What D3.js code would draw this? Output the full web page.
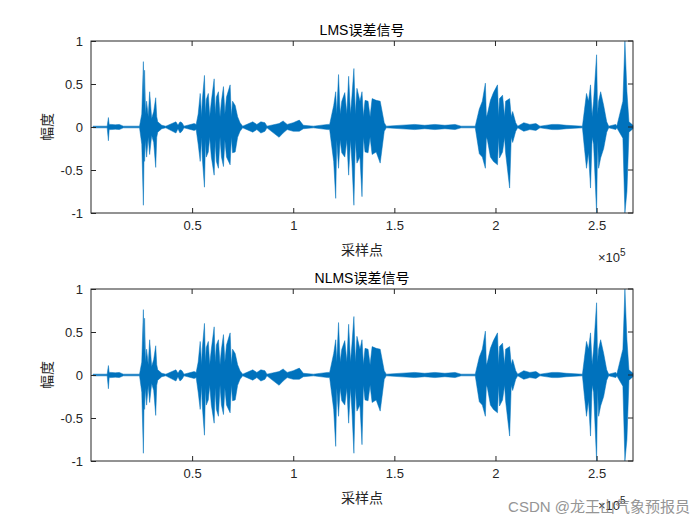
<!DOCTYPE html>
<html>
<head>
<meta charset="utf-8">
<script src="https://d3js.org/d3.v7.min.js"></script>
<style>
body { margin: 0; background: #fff; }
text { font-family: Arial, "Liberation Sans", "Noto Sans CJK SC", sans-serif; }
</style>
</head>
<body>
<svg id="chart" width="700" height="525"></svg>
<script>
// envelope of the error signal (x in units of 1e5 samples)
var envX  = [0.01,0.08,0.086,0.09,0.10,0.12,0.14,0.16,0.24,0.251,0.259,0.263,0.265,0.27,0.275,0.283,0.29,0.30,0.31,0.32,0.325,0.33,0.35,0.37,0.42,0.43,0.44,0.45,0.46,0.51,0.52,0.53,0.54,0.547,0.55,0.561,0.566,0.57,0.58,0.587,0.595,0.609,0.614,0.62,0.63,0.638,0.645,0.655,0.662,0.67,0.688,0.694,0.70,0.713,0.725,0.737,0.75,0.80,0.82,0.84,0.86,0.87,0.93,0.95,0.97,1.00,1.03,1.05,1.10,1.17,1.18,1.20,1.21,1.215,1.224,1.232,1.24,1.255,1.265,1.274,1.283,1.29,1.30,1.307,1.315,1.33,1.34,1.347,1.355,1.37,1.38,1.39,1.41,1.43,1.45,1.46,1.60,1.65,1.70,1.75,1.80,1.83,1.90,1.92,1.935,1.95,1.955,1.96,1.975,1.99,2.01,2.015,2.02,2.035,2.045,2.05,2.07,2.078,2.085,2.10,2.11,2.14,2.17,2.20,2.22,2.28,2.31,2.35,2.43,2.44,2.45,2.46,2.47,2.478,2.485,2.50,2.505,2.51,2.52,2.535,2.55,2.56,2.595,2.60,2.63,2.64,2.65,2.66,2.68];
var envHi = [0.01,0.01,0.11,0.03,0.03,0.025,0.03,0.01,0.01,0.15,0.76,0.25,0.66,0.15,0.30,0.12,0.41,0.10,0.18,0.34,0.12,0.06,0.02,0.01,0.06,0.02,0.06,0.05,0.01,0.04,0.03,0.15,0.39,0.12,0.30,0.60,0.15,0.32,0.39,0.12,0.30,0.56,0.15,0.35,0.41,0.12,0.30,0.47,0.15,0.35,0.49,0.12,0.30,0.25,0.12,0.05,0.01,0.06,0.03,0.06,0.05,0.01,0.04,0.07,0.03,0.05,0.08,0.02,0.01,0.03,0.03,0.25,0.41,0.15,0.61,0.15,0.30,0.40,0.15,0.59,0.15,0.35,0.68,0.15,0.45,0.30,0.41,0.12,0.31,0.30,0.12,0.33,0.31,0.30,0.05,0.01,0.03,0.02,0.03,0.02,0.03,0.01,0.01,0.21,0.30,0.51,0.12,0.15,0.31,0.40,0.49,0.12,0.33,0.37,0.12,0.30,0.33,0.12,0.18,0.05,0.01,0.05,0.03,0.04,0.01,0.03,0.03,0.02,0.01,0.20,0.39,0.30,0.49,0.12,0.30,0.84,0.15,0.30,0.41,0.25,0.06,0.01,0.03,0.01,0.30,1.00,0.41,0.06,0.02];
var envLo = [-0.01,-0.01,-0.16,-0.03,-0.03,-0.025,-0.03,-0.01,-0.01,-0.20,-0.91,-0.20,-0.40,-0.15,-0.35,-0.12,-0.32,-0.10,-0.18,-0.47,-0.12,-0.06,-0.02,-0.01,-0.07,-0.02,-0.07,-0.05,-0.01,-0.04,-0.03,-0.20,-0.40,-0.12,-0.35,-0.70,-0.15,-0.35,-0.29,-0.12,-0.35,-0.56,-0.15,-0.40,-0.48,-0.12,-0.35,-0.46,-0.15,-0.35,-0.44,-0.12,-0.30,-0.29,-0.12,-0.05,-0.01,-0.06,-0.03,-0.07,-0.05,-0.01,-0.12,-0.07,-0.03,-0.05,-0.05,-0.02,-0.01,-0.03,-0.03,-0.40,-0.83,-0.15,-0.48,-0.15,-0.30,-0.35,-0.15,-0.56,-0.15,-0.40,-0.91,-0.15,-0.42,-0.35,-0.81,-0.12,-0.29,-0.30,-0.12,-0.32,-0.29,-0.42,-0.05,-0.01,-0.03,-0.02,-0.03,-0.02,-0.03,-0.01,-0.01,-0.31,-0.35,-0.48,-0.12,-0.15,-0.35,-0.40,-0.44,-0.12,-0.36,-0.29,-0.12,-0.30,-0.71,-0.12,-0.18,-0.05,-0.01,-0.05,-0.03,-0.04,-0.01,-0.03,-0.03,-0.02,-0.01,-0.25,-0.48,-0.30,-0.71,-0.12,-0.20,-1.00,-0.15,-0.48,-0.36,-0.25,-0.06,-0.01,-0.03,-0.01,-0.13,-1.00,-0.75,-0.06,-0.02];
var xTicks = [0.5, 1, 1.5, 2, 2.5];
var yTicks = [-1, -0.5, 0, 0.5, 1];
var titles = ["LMS误差信号", "NLMS误差信号"];

var svg = d3.select("#chart");
var left = 91, right = 633, h = 172;
var tops = [41, 289];
var x = d3.scaleLinear().domain([0, 2.68]).range([left, right]);
var pts = envX.map(function(d, i) { return {x: d, hi: envHi[i], lo: envLo[i]}; });
var fmt = function(d) { return String(d); };

tops.forEach(function(top, k) {
  var y = d3.scaleLinear().domain([-1, 1]).range([top + h, top]);
  var g = svg.append("g");

  var area = d3.area().x(function(d) { return x(d.x); }).y0(function(d) { return y(d.lo); }).y1(function(d) { return y(d.hi); });
  g.append("path").datum(pts).attr("d", area).attr("fill", "#0072BD").attr("stroke", "#0072BD").attr("stroke-width", 0.5);

  var ax = g.append("g").attr("transform", "translate(0," + (top + h) + ")")
    .call(d3.axisBottom(x).tickValues(xTicks).tickFormat(fmt).tickSizeInner(-5).tickSizeOuter(0).tickPadding(8));
  var ay = g.append("g").attr("transform", "translate(" + left + ",0)")
    .call(d3.axisLeft(y).tickValues(yTicks).tickFormat(fmt).tickSizeInner(-5).tickSizeOuter(0).tickPadding(8));
  [ax, ay].forEach(function(a) {
    a.select(".domain").remove();
    a.selectAll("line").attr("stroke", "#262626");
    a.selectAll("text").attr("font-size", 13).attr("fill", "#262626");
  });
  // top/right ticks like MATLAB box
  g.selectAll(".tt").data(xTicks).enter().append("line")
    .attr("x1", function(d) { return x(d); }).attr("x2", function(d) { return x(d); })
    .attr("y1", top).attr("y2", top + 5).attr("stroke", "#262626");
  g.selectAll(".rt").data(yTicks).enter().append("line")
    .attr("x1", right).attr("x2", right - 5)
    .attr("y1", function(d) { return y(d); }).attr("y2", function(d) { return y(d); }).attr("stroke", "#262626");
  g.append("rect").attr("x", left).attr("y", top).attr("width", right - left).attr("height", h)
    .attr("fill", "none").attr("stroke", "#262626").attr("stroke-width", 1);

  g.append("text").attr("x", (left + right) / 2).attr("y", top - 6).attr("text-anchor", "middle")
    .attr("font-size", 14).attr("fill", "#000").text(titles[k]);
  g.append("text").attr("x", (left + right) / 2).attr("y", top + h + 42).attr("text-anchor", "middle")
    .attr("font-size", 14).attr("fill", "#262626").text("采样点");
  g.append("text").attr("transform", "translate(52," + (top + h / 2) + ") rotate(-90)").attr("text-anchor", "middle")
    .attr("font-size", 14).attr("fill", "#262626").text("幅度");
  var ex = g.append("text").attr("x", 598).attr("y", top + h + 49).attr("font-size", 13).attr("fill", "#262626");
  ex.append("tspan").text("×10");
  ex.append("tspan").attr("font-size", 10).attr("dy", -6).text("5");
});

svg.append("text").attr("x", 690).attr("y", 512).attr("text-anchor", "end")
  .attr("font-size", 15).attr("fill", "#8a8a8a").attr("opacity", 0.9).text("CSDN @龙王山气象预报员");
</script>
</body>
</html>
